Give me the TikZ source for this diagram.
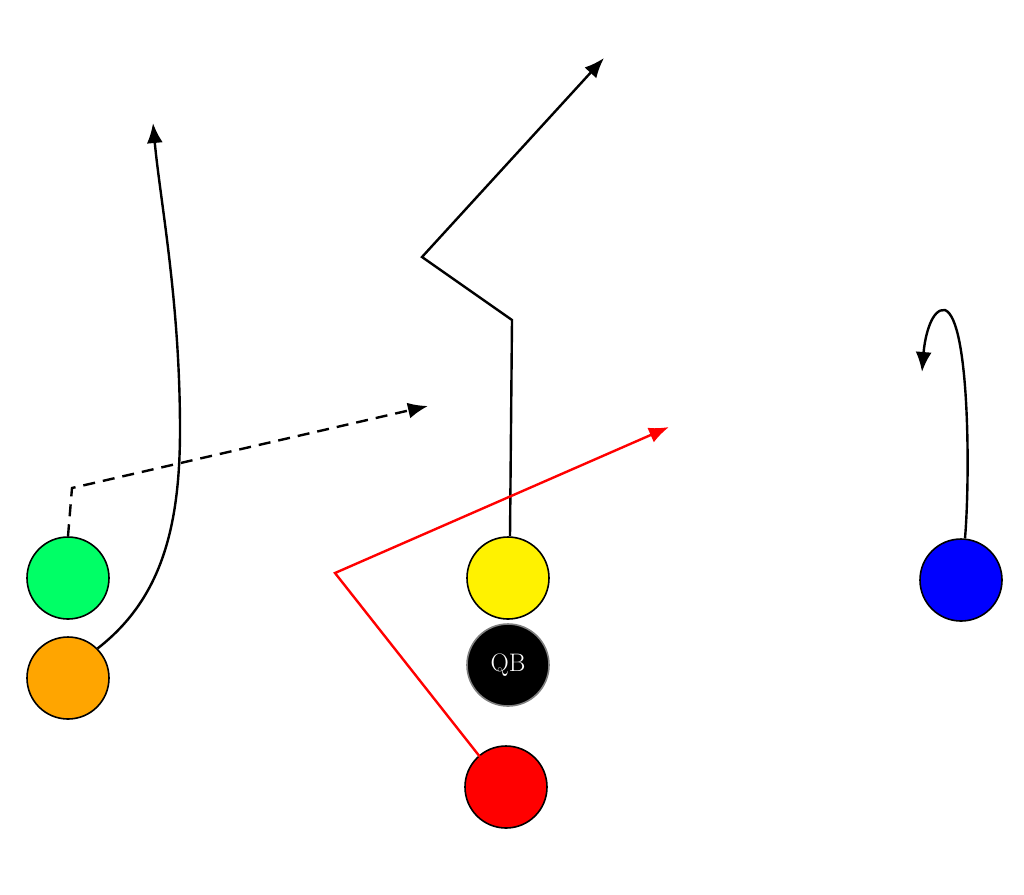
\documentclass[tikz,border=0pt]{standalone}
\usetikzlibrary{arrows.meta}
\begin{document}
\begin{tikzpicture}[x=0.75pt,y=-0.75pt,
 player/.style={circle,draw=black,line width=1.2pt,minimum size=61.5pt,inner sep=0pt},
 route/.style={line width=1.8pt,-{Latex[length=15pt,width=12pt]}}]
\useasboundingbox (0,0) rectangle (1024,894);
\node[player,fill={rgb,255:red,0;green,255;blue,102}] (g) at (68,578) {};
\node[player,fill={rgb,255:red,255;green,165;blue,0}] (o) at (68,678) {};
\node[player,fill=yellow] (y) at (508,578) {};
\node[player,fill=black,draw=gray,text=white] (qb) at (508,665) {\fontsize{19}{22}\selectfont QB};
\node[player,fill=red] (r) at (506,787) {};
\node[player,fill=blue] (b) at (961,580) {};
\coordinate (oe) at (153,123);
\coordinate (ge) at (428,406);
\coordinate (ye) at (604,58);
\coordinate (re) at (669,427);
\coordinate (be) at (922,372);
\draw[route] (o.45) .. controls (160,600) and (180,530) .. (180,430) .. controls (180,300) and (160,200) .. (oe);
\draw[route,dashed,dash pattern=on 9pt off 6pt] (g.north) -- (72,488) -- (ge);
\draw[route] (y.north) ++(2,0) -- (512,320) -- (422,257) -- (ye);
\draw[route,red] (r.north west) ++(4,0) -- (335,573) -- (re);
\draw[route] (b.north) ++(4,0) .. controls (970,480) and (970,320) .. (945,310) .. controls (932,308) and (925,335) .. (be);
\end{tikzpicture}
\end{document}
